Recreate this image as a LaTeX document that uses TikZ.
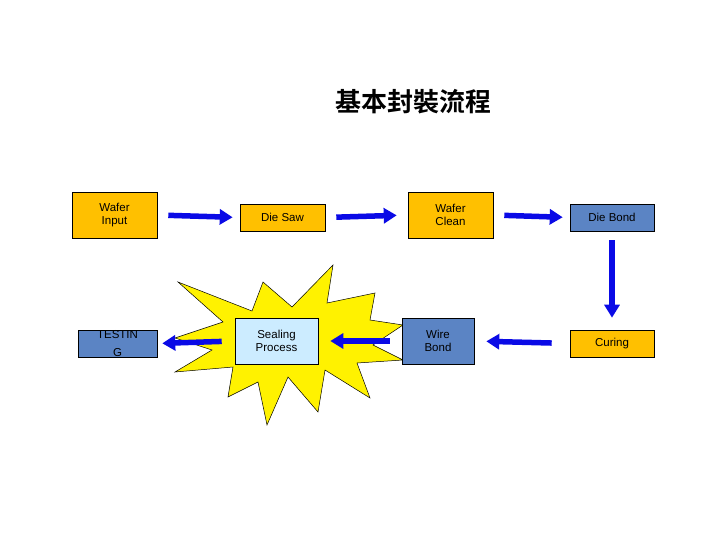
\documentclass[tikz,border=0pt]{standalone}
\usepackage{fontspec}
\setmainfont{Liberation Sans}
\newfontfamily\cjk{Noto Sans CJK TC Bold}
\usetikzlibrary{arrows.meta}
\definecolor{boxorange}{HTML}{FFC000}
\definecolor{boxblue}{HTML}{5B84C4}
\definecolor{boxlight}{HTML}{CCECFF}
\definecolor{arrblue}{HTML}{0A0AE6}
\begin{document}
\begin{tikzpicture}[x=1pt,y=-1pt,
  box/.style={draw=black,line width=0.6pt,inner sep=0pt,align=center,font=\fontsize{11.5}{13.5}\selectfont},
  ob/.style={box,fill=boxorange},
  bb/.style={box,fill=boxblue},
  lb/.style={box,fill=boxlight},
  flow/.style={draw=arrblue,line width=5.5pt,-{Triangle[width=15pt,length=13pt]}}]
\useasboundingbox (0,0) rectangle (720,540);
\node[font=\cjk\fontsize{26}{30}\selectfont] (title) at (413,102) {基本封裝流程};
% starburst
\fill[yellow,draw=black,line width=0.5pt] (178,282)--(252,311)--(263,282)--(292,307)--(333,265)--(327,303)--(375,293)--(370,320)--(403,325)--(373,345)--(403,360)--(357,363)--(370,398)--(325,370)--(318,412)--(288,377)--(267,425)--(258,382)--(228,397)--(233,367)--(175,372)--(212,350)--(175,338)--(223,322)--cycle;
\node[ob,minimum width=85pt,minimum height=46pt] (wi) at (114.5,215) {Wafer\\Input};
\node[ob,minimum width=85pt,minimum height=27pt] (ds) at (282.5,217.5) {Die Saw};
\node[ob,minimum width=85pt,minimum height=46pt] (wc) at (450.5,215) {Wafer\\Clean};
\node[bb,minimum width=84pt,minimum height=27pt] (db) at (612,217.5) {Die Bond};
\node[ob,minimum width=84pt,minimum height=27pt] (cu) at (612,343.5) {Curing};
\node[bb,minimum width=72pt,minimum height=46pt] (wb) at (438,341) {Wire\\Bond};
\node[lb,minimum width=83pt,minimum height=46pt] (sp) at (276.5,341) {Sealing\\Process};
\node[bb,minimum width=79pt,minimum height=27pt] (te) at (117.5,343.5) {};
\node[align=center,inner sep=0pt,font=\fontsize{11.5}{18}\selectfont] (tet) at (te) {TESTIN\\G};
\draw[flow,shorten <=11pt,shorten >=7pt] (wi.east) -- (ds.west);
\draw[flow,shorten <=11pt,shorten >=11pt] (ds.east) -- (wc.west);
\draw[flow,shorten <=11pt,shorten >=7pt] (wc.east) -- (db.west);
\draw[flow,shorten <=9pt,shorten >=12pt] (db.south) -- (cu.north);
\draw[flow,shorten <=18pt,shorten >=12pt] (cu.west) -- (wb.east);
\draw[flow,shorten <=12pt,shorten >=12pt] (wb.west) -- (sp.east);
\draw[flow,shorten <=13pt,shorten >=5pt] (sp.west) -- (te.east);
\end{tikzpicture}
\end{document}
